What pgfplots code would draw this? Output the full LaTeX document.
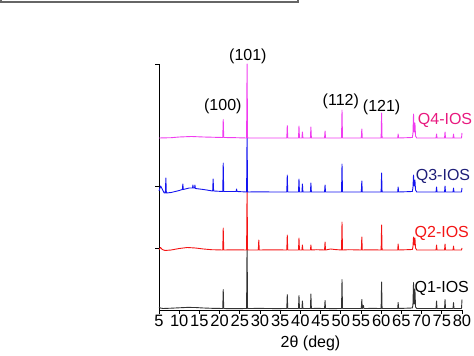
\documentclass[border=0pt]{standalone}
\usepackage{pgfplots}
\pgfplotsset{compat=1.18}
\usepackage{fontspec}
\setmainfont{Liberation Sans}
\definecolor{qblack}{HTML}{333333}
\definecolor{qred}{HTML}{F41414}
\definecolor{qblue}{HTML}{1414F0}
\definecolor{qmag}{HTML}{F03CF0}
\definecolor{lmag}{HTML}{E8197F}
\definecolor{lnavy}{HTML}{1E1E78}
\begin{document}
\begin{tikzpicture}[x=1pt,y=1pt]
\useasboundingbox (0,0) rectangle (474,356);
\draw[gray!80!black, line width=1.2pt] (1,362) -- (1,354) -- (298,354) -- (298,362);
\begin{axis}[
  at={(159pt,46pt)}, anchor=south west,
  scale only axis, width=303pt, height=246pt,
  xmin=5, xmax=80, ymin=0, ymax=246,
  axis x line*=bottom, axis y line*=left,
  axis line style={-, line width=0.9pt, black},
  xtick={5,10,...,80}, ytick={62,124,246}, yticklabels={},
  tick align=outside, major tick length=4pt,
  tick style={black, line width=0.8pt},
  /pgf/number format/assume math mode=true,
  x tick label style={font=\fontsize{16.5}{18}\selectfont, inner sep=1pt},
  xlabel={2θ (deg)},
  xlabel style={font=\fontsize{16}{18}\selectfont, yshift=-4pt},
  clip=false,
  every axis plot/.append style={line width=0.9pt, line join=round},
]
\addplot[qblack] coordinates {(5,3)(5.3,2)(6,1.5)(8,1.8)(10,2.2)(12,2.6)(14,2.5)(16,2)(18,1.7)(20.78,1.5)(20.9,20.5)(21.02,1.5)(23,1.3)(26.68,1.5)(26.8,70)(26.92,1.5)(30,1.6)(34,1.4)(36.63,1.5)(36.75,15.5)(36.87,1.5)(39.53,1.5)(39.65,14.5)(39.77,1.5)(40.38,1.5)(40.5,9)(40.62,1.5)(42.48,1.5)(42.6,16)(42.72,1.5)(44,1.6)(45.98,1.5)(46.1,9.5)(46.22,1.5)(48,1.4)(50.18,1.5)(50.3,30.5)(50.42,1.5)(55.08,1.5)(55.2,10.5)(55.32,1.5)(55.6,4.5)(55.72,1.5)(58,1.6)(59.98,1.5)(60.1,28)(60.22,1.5)(64.08,1.5)(64.2,7.5)(64.32,1.5)(67.7,2)(67.85,5)(68.0,27.5)(68.15,6)(68.35,21)(68.5,3)(68.8,1.5)(71,1.5)(73.58,1.5)(73.7,9)(73.82,1.5)(75.68,1.5)(75.8,10.5)(75.92,1.5)(77.78,1.5)(77.9,7.5)(78.02,1.5)(79.88,1.5)(80,10.5)};
\addplot[qred] coordinates {(5,60.5)(5.4,62.5)(5.8,60.5)(6.5,59.5)(8,60)(10,61.5)(12,62.5)(14,62)(16,61)(18,60.3)(20.78,60)(20.9,82)(21.02,60)(24,60.2)(26.68,60)(26.8,122)(26.92,60)(29.58,60)(29.7,70)(29.82,60)(33,60.2)(36.63,60)(36.75,75)(36.87,60)(39.53,60)(39.65,72)(39.77,60)(40.38,60)(40.5,65)(40.62,60)(42.48,60)(42.6,65)(42.72,60)(44,60.3)(45.98,60)(46.1,68)(46.22,60)(47.5,61)(48.5,60.5)(50.18,60)(50.3,88)(50.42,60)(52,60.3)(55.08,60)(55.2,73)(55.32,60)(57,60.2)(59.98,60)(60.1,85)(60.22,60)(64.08,60)(64.2,66)(64.32,60)(67.7,60.5)(67.85,63)(68.0,73)(68.15,65)(68.35,72)(68.5,62)(68.8,60)(71,60)(73.58,60)(73.7,65)(73.82,60)(75.68,60)(75.8,66)(75.92,60)(77.78,60)(77.9,64)(78.02,60)(79.88,60)(80,62)};
\addplot[qblue] coordinates {(5,119)(5.4,124)(5.8,121)(6.3,117)(6.58,117)(6.7,132)(6.82,117)(8,117.5)(10,119.5)(10.78,120.5)(10.9,126)(11.02,120.5)(12.5,122)(13.3,122)(13.4,125)(13.5,122)(13.8,122)(13.9,125)(14,121.5)(16,120.5)(18.28,119)(18.4,131)(18.52,119)(20.78,118.5)(20.9,147)(21.02,118.5)(24.08,118.5)(24.2,121)(24.32,118.5)(26.68,118)(26.8,178)(26.92,118)(30,118.2)(33,118)(36.63,118)(36.75,135)(36.87,118)(39.53,118)(39.65,131)(39.77,118)(40.38,118)(40.5,126)(40.62,118)(42.48,118)(42.6,127)(42.72,118)(45.98,118)(46.1,125)(46.22,118)(50.18,118)(50.3,146)(50.42,118)(55.08,118)(55.2,129)(55.32,118)(59.98,118)(60.1,137)(60.22,118)(64.08,118)(64.2,123)(64.32,118)(67.7,118.5)(67.85,122)(68.0,135)(68.15,124)(68.35,130)(68.5,120)(68.8,118)(73.58,118)(73.7,123)(73.82,118)(75.68,118)(75.8,124)(75.92,118)(77.78,118)(77.9,122)(78.02,118)(79.88,118)(80,122)};
\addplot[qmag] coordinates {(5,172)(8,172.3)(10,173)(13,173.5)(16,173)(20.78,172.5)(20.9,190.5)(21.02,172.5)(24,172.3)(26.68,172)(26.8,246)(26.92,172)(30,172)(36.63,172)(36.75,184.5)(36.87,172)(39.53,172)(39.65,184)(39.77,172)(40.38,172)(40.5,178)(40.62,172)(42.48,172)(42.6,183)(42.72,172)(45.98,172)(46.1,179)(46.22,172)(50.18,172)(50.3,200)(50.42,172)(55.08,172)(55.2,181)(55.32,172)(59.98,172)(60.1,197)(60.22,172)(64.08,172)(64.2,176)(64.32,172)(67.7,172.5)(67.85,176)(68.0,196)(68.15,178)(68.35,187)(68.5,174)(68.8,172)(73.58,172)(73.7,176)(73.82,172)(75.68,172)(75.8,178)(75.92,172)(77.78,172)(77.9,176)(78.02,172)(79.88,172)(80,177)};
\begin{scope}[font=\fontsize{16}{18}\selectfont]
\node at (axis cs:27.0,254) {(101)};
\node at (axis cs:20.8,203.3) {(100)};
\node at (axis cs:50.0,209) {(112)};
\node at (axis cs:60.1,202.3) {(121)};
\node[text=lmag] at (axis cs:75.8,190) {Q4-IOS};
\node[text=lnavy] at (axis cs:75.3,133.3) {Q3-IOS};
\node[text=qred] at (axis cs:75.0,76.7) {Q2-IOS};
\node[text=black] at (axis cs:75.0,21.7) {Q1-IOS};
\end{scope}
\end{axis}
\end{tikzpicture}
\end{document}
